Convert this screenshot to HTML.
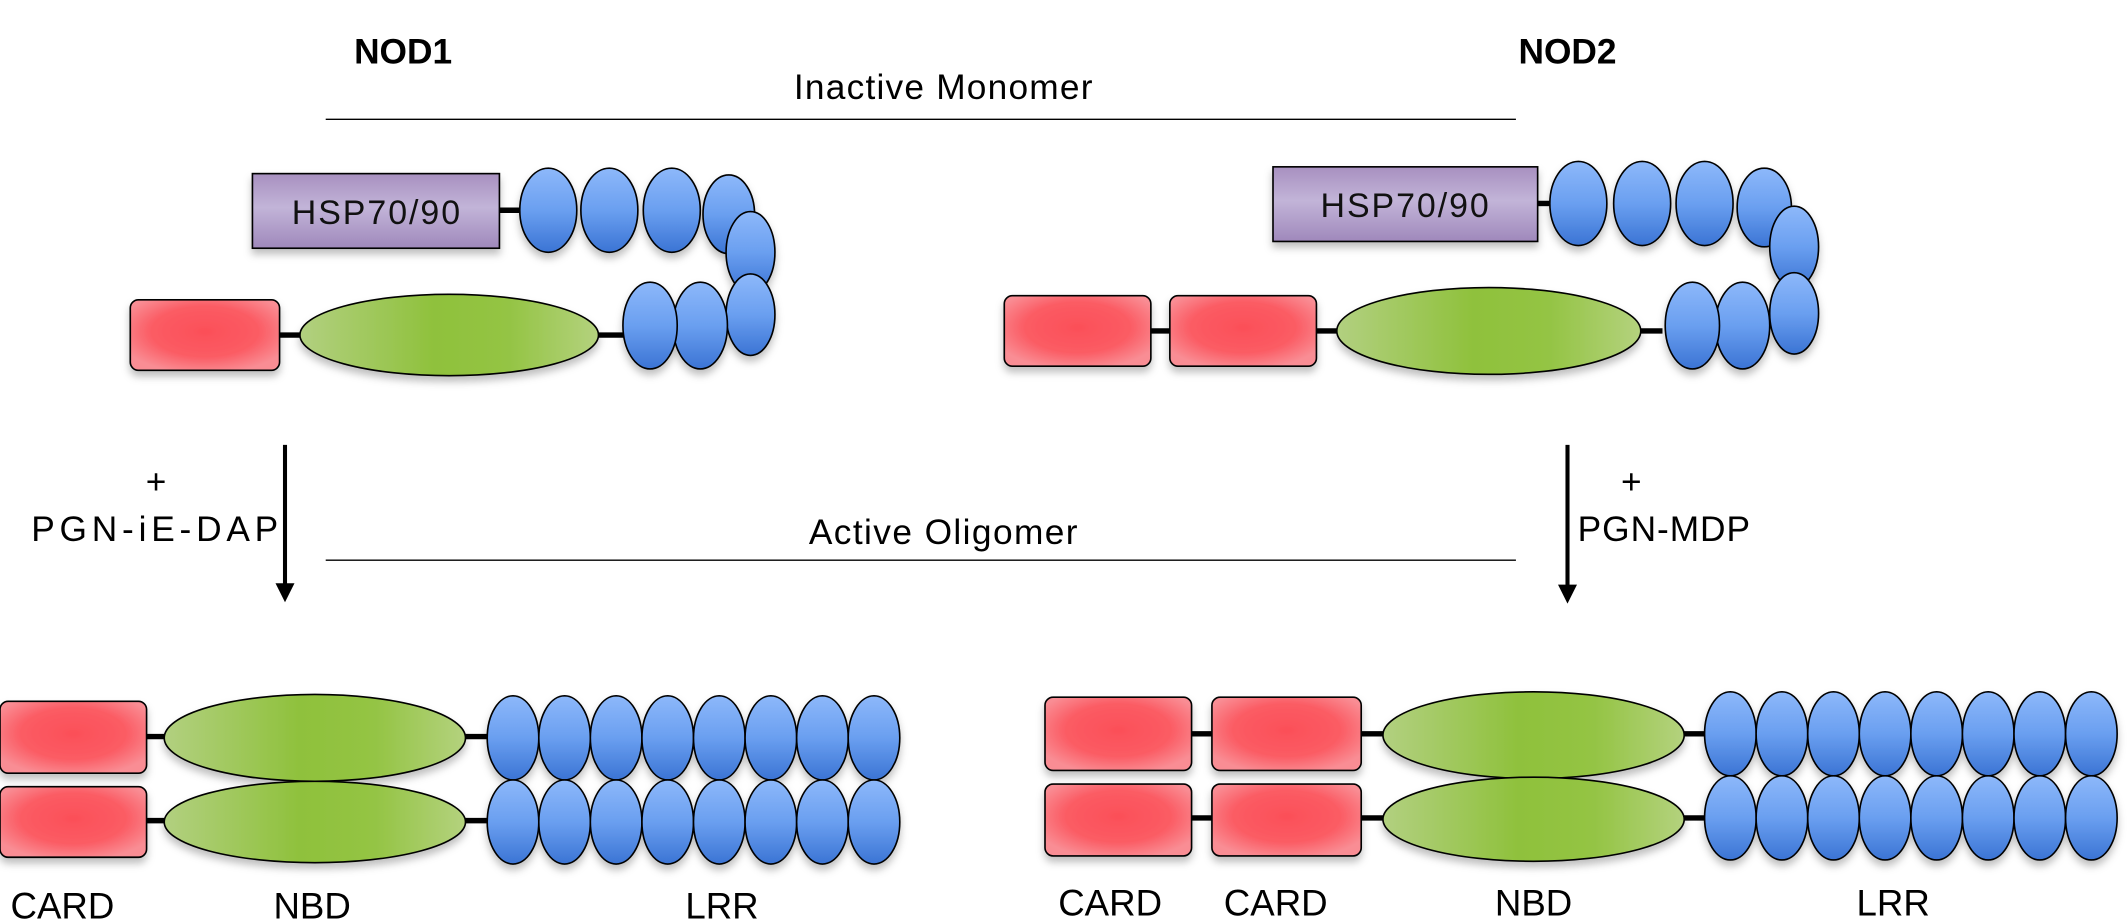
<!DOCTYPE html>
<html><head><meta charset="utf-8"><style>html,body{margin:0;padding:0;background:#fff;}svg{display:block;}</style></head>
<body>
<svg width="2128" height="921" viewBox="0 0 1568 679" preserveAspectRatio="none" xmlns="http://www.w3.org/2000/svg" font-family="Liberation Sans, sans-serif">
<defs>
<linearGradient id="bead" x1="0" y1="0" x2="0" y2="1"><stop offset="0" stop-color="#8db8fa"/><stop offset="0.5" stop-color="#6a9ff0"/><stop offset="1" stop-color="#3b74d4"/></linearGradient>
<linearGradient id="nbd" x1="0" y1="0" x2="1" y2="0"><stop offset="0" stop-color="#b2d080"/><stop offset="0.45" stop-color="#8fc13c"/><stop offset="0.7" stop-color="#94c444"/><stop offset="1" stop-color="#b4d27e"/></linearGradient>
<radialGradient id="card" cx="0.5" cy="0.45" r="0.6"><stop offset="0" stop-color="#fb4f58"/><stop offset="0.6" stop-color="#fb5c64"/><stop offset="1" stop-color="#f98d94"/></radialGradient>
<linearGradient id="hsp" x1="0" y1="0" x2="0" y2="1"><stop offset="0" stop-color="#a890c0"/><stop offset="0.45" stop-color="#c2b4d8"/><stop offset="1" stop-color="#9f88bb"/></linearGradient>
<filter id="sh" x="-10%" y="-10%" width="130%" height="140%"><feDropShadow dx="0" dy="4" stdDeviation="3" flood-color="#000" flood-opacity="0.25"/></filter>
</defs>
<g fill="#000">
<text x="297" y="47" font-size="26" font-weight="bold" text-anchor="middle">NOD1</text>
<text x="1155" y="47" font-size="26" font-weight="bold" text-anchor="middle">NOD2</text>
<text x="695" y="73" font-size="26" text-anchor="middle" textLength="220">Inactive Monomer</text>
<text x="695" y="401" font-size="26" text-anchor="middle" textLength="198">Active Oligomer</text>
<text x="115" y="364" font-size="26" text-anchor="middle">+</text>
<text x="114" y="399" font-size="26" text-anchor="middle" textLength="182">PGN-iE-DAP</text>
<text x="1202" y="364" font-size="26" text-anchor="middle">+</text>
<text x="1226" y="399" font-size="26" text-anchor="middle" textLength="127">PGN-MDP</text>
<g font-size="27" text-anchor="middle">
<text x="46" y="677">CARD</text><text x="230" y="677">NBD</text><text x="532" y="677">LRR</text>
<text x="818" y="675">CARD</text><text x="940" y="675">CARD</text><text x="1130" y="675">NBD</text><text x="1395" y="675">LRR</text>
</g>
</g>
<line x1="240" y1="88" x2="1117" y2="88" stroke="#000" stroke-width="1"/>
<line x1="240" y1="413" x2="1117" y2="413" stroke="#000" stroke-width="1"/>
<line x1="210" y1="328" x2="210" y2="432" stroke="#000" stroke-width="3"/>
<polygon points="203,430 217,430 210,444" fill="#000"/>
<line x1="1155" y1="328" x2="1155" y2="433" stroke="#000" stroke-width="3"/>
<polygon points="1148,431 1162,431 1155,445" fill="#000"/>
<g stroke="#000" stroke-width="4">
<line x1="368" y1="155" x2="384" y2="155"/>
<line x1="206" y1="247" x2="222" y2="247"/>
<line x1="440" y1="247" x2="460" y2="247"/>
<line x1="1133" y1="150" x2="1142" y2="150"/>
<line x1="848" y1="244" x2="862" y2="244"/>
<line x1="970" y1="244" x2="987" y2="244"/>
<line x1="1207" y1="244" x2="1225" y2="244"/>
<line x1="108" y1="543" x2="122" y2="543"/>
<line x1="108" y1="605" x2="122" y2="605"/>
<line x1="342" y1="543" x2="360" y2="543"/>
<line x1="342" y1="605" x2="360" y2="605"/>
<line x1="878" y1="541" x2="893" y2="541"/>
<line x1="878" y1="603" x2="893" y2="603"/>
<line x1="1003" y1="541" x2="1020" y2="541"/>
<line x1="1003" y1="603" x2="1020" y2="603"/>
<line x1="1240" y1="541" x2="1258" y2="541"/>
<line x1="1240" y1="603" x2="1258" y2="603"/>
</g>
<g stroke="#000" stroke-width="1.2" filter="url(#sh)">
<rect x="186" y="128" width="182" height="55" fill="url(#hsp)"/>
<rect x="96" y="221" width="110" height="52" rx="6" fill="url(#card)"/>
<ellipse cx="331" cy="247" rx="110" ry="30" fill="url(#nbd)"/>
<g fill="url(#bead)">
<ellipse cx="404" cy="155" rx="21" ry="31"/><ellipse cx="449" cy="155" rx="21" ry="31"/><ellipse cx="495" cy="155" rx="21" ry="31"/><ellipse cx="537" cy="158" rx="19" ry="29"/>
<ellipse cx="553" cy="186" rx="18" ry="30"/><ellipse cx="553" cy="232" rx="18" ry="30"/>
<ellipse cx="516" cy="240" rx="20" ry="32"/><ellipse cx="479" cy="240" rx="20" ry="32"/>
</g>
<rect x="938" y="123" width="195" height="55" fill="url(#hsp)"/>
<rect x="740" y="218" width="108" height="52" rx="6" fill="url(#card)"/>
<rect x="862" y="218" width="108" height="52" rx="6" fill="url(#card)"/>
<ellipse cx="1097" cy="244" rx="112" ry="32" fill="url(#nbd)"/>
<g fill="url(#bead)">
<ellipse cx="1163" cy="150" rx="21" ry="31"/><ellipse cx="1210" cy="150" rx="21" ry="31"/><ellipse cx="1256" cy="150" rx="21" ry="31"/><ellipse cx="1300" cy="153" rx="20" ry="29"/>
<ellipse cx="1322" cy="182" rx="18" ry="30"/><ellipse cx="1322" cy="231" rx="18" ry="30"/>
<ellipse cx="1284" cy="240" rx="20" ry="32"/><ellipse cx="1247" cy="240" rx="20" ry="32"/>
</g>
<rect x="0" y="517" width="108" height="53" rx="6" fill="url(#card)"/>
<rect x="0" y="580" width="108" height="52" rx="6" fill="url(#card)"/>
<ellipse cx="232" cy="544" rx="111" ry="32" fill="url(#nbd)"/>
<ellipse cx="232" cy="606" rx="111" ry="30" fill="url(#nbd)"/>
<g fill="url(#bead)">
<ellipse cx="378" cy="544" rx="19" ry="31"/><ellipse cx="416" cy="544" rx="19" ry="31"/><ellipse cx="454" cy="544" rx="19" ry="31"/><ellipse cx="492" cy="544" rx="19" ry="31"/><ellipse cx="530" cy="544" rx="19" ry="31"/><ellipse cx="568" cy="544" rx="19" ry="31"/><ellipse cx="606" cy="544" rx="19" ry="31"/><ellipse cx="644" cy="544" rx="19" ry="31"/>
<ellipse cx="378" cy="606" rx="19" ry="31"/><ellipse cx="416" cy="606" rx="19" ry="31"/><ellipse cx="454" cy="606" rx="19" ry="31"/><ellipse cx="492" cy="606" rx="19" ry="31"/><ellipse cx="530" cy="606" rx="19" ry="31"/><ellipse cx="568" cy="606" rx="19" ry="31"/><ellipse cx="606" cy="606" rx="19" ry="31"/><ellipse cx="644" cy="606" rx="19" ry="31"/>
</g>
<rect x="770" y="514" width="108" height="54" rx="6" fill="url(#card)"/>
<rect x="770" y="578" width="108" height="53" rx="6" fill="url(#card)"/>
<rect x="893" y="514" width="110" height="54" rx="6" fill="url(#card)"/>
<rect x="893" y="578" width="110" height="53" rx="6" fill="url(#card)"/>
<ellipse cx="1130" cy="542" rx="111" ry="32" fill="url(#nbd)"/>
<ellipse cx="1130" cy="604" rx="111" ry="31" fill="url(#nbd)"/>
<g fill="url(#bead)">
<ellipse cx="1275" cy="541" rx="19" ry="31"/><ellipse cx="1313" cy="541" rx="19" ry="31"/><ellipse cx="1351" cy="541" rx="19" ry="31"/><ellipse cx="1389" cy="541" rx="19" ry="31"/><ellipse cx="1427" cy="541" rx="19" ry="31"/><ellipse cx="1465" cy="541" rx="19" ry="31"/><ellipse cx="1503" cy="541" rx="19" ry="31"/><ellipse cx="1541" cy="541" rx="19" ry="31"/>
<ellipse cx="1275" cy="603" rx="19" ry="31"/><ellipse cx="1313" cy="603" rx="19" ry="31"/><ellipse cx="1351" cy="603" rx="19" ry="31"/><ellipse cx="1389" cy="603" rx="19" ry="31"/><ellipse cx="1427" cy="603" rx="19" ry="31"/><ellipse cx="1465" cy="603" rx="19" ry="31"/><ellipse cx="1503" cy="603" rx="19" ry="31"/><ellipse cx="1541" cy="603" rx="19" ry="31"/>
</g>
</g>
<g fill="#111" font-size="25" text-anchor="middle">
<text x="277" y="165" textLength="124">HSP70/90</text>
<text x="1035" y="160" textLength="124">HSP70/90</text>
</g>
</svg>
</body></html>
